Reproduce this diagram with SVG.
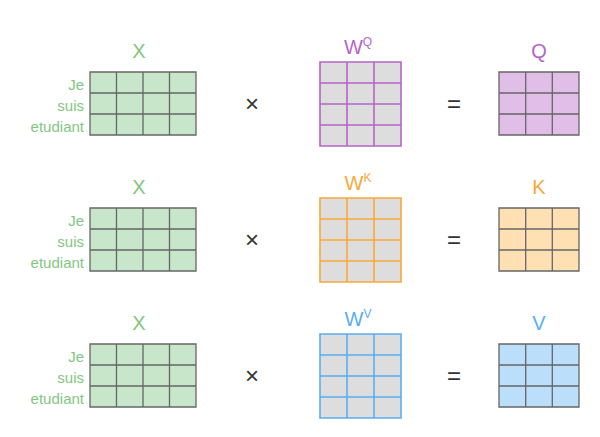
<svg xmlns="http://www.w3.org/2000/svg" width="600" height="437" viewBox="0 0 600 437">
<defs>
<style>
text{font-family:"Liberation Sans",Arial,sans-serif}
.t{font-size:20px;text-anchor:middle}
.w{font-size:15px;text-anchor:end;fill:#82c882}
.op{font-size:24px;text-anchor:middle;fill:#333}
.g{stroke:#666;stroke-width:1.3;fill:none}
</style>
<g id="xm">
<rect x="90" y="72" width="106" height="63" fill="#c8e6c9"/>
<path class="g" d="M90 72h106v63h-106zM116.5 72v63M143 72v63M169.5 72v63M90 93h106M90 114h106"/>
<text class="w" x="84" y="90">Je</text>
<text class="w" x="84" y="111">suis</text>
<text class="w" x="84" y="132">etudiant</text>
<text class="t" x="139" y="58" fill="#82c882">X</text>
<text class="op" x="252" y="112">×</text>
<text class="op" x="454" y="112">=</text>
</g>
<path id="wg" d="M320 62h81v84h-81zM347 62v84M374 62v84M320 83h81M320 104h81M320 125h81"/>
<path id="rg" d="M499 72h80v63h-80zM525.7 72v63M552.3 72v63M499 93h80M499 114h80"/>
</defs>
<g id="row-q">
<use href="#xm"/>
<rect x="320" y="62" width="81" height="84" fill="#dddddd"/>
<use href="#wg" fill="none" stroke="#b565c8" stroke-width="1.6"/>
<text class="t" x="358" y="54" fill="#b565c8">W<tspan font-size="12" dy="-8">Q</tspan></text>
<rect x="499" y="72" width="80" height="63" fill="#e1bee7"/>
<use href="#rg" fill="none" stroke="#666" stroke-width="1.3"/>
<text class="t" x="539" y="58" fill="#b565c8">Q</text>
</g>
<g id="row-k" transform="translate(0,136)">
<use href="#xm"/>
<rect x="320" y="62" width="81" height="84" fill="#dddddd"/>
<use href="#wg" fill="none" stroke="#f8a93a" stroke-width="1.6"/>
<text class="t" x="358" y="54" fill="#f8a93a">W<tspan font-size="12" dy="-8">K</tspan></text>
<rect x="499" y="72" width="80" height="63" fill="#ffe0b2"/>
<use href="#rg" fill="none" stroke="#666" stroke-width="1.3"/>
<text class="t" x="539" y="58" fill="#f8a93a">K</text>
</g>
<g id="row-v" transform="translate(0,272)">
<use href="#xm"/>
<rect x="320" y="62" width="81" height="84" fill="#dddddd"/>
<use href="#wg" fill="none" stroke="#5aaef0" stroke-width="1.6"/>
<text class="t" x="358" y="54" fill="#5aaef0">W<tspan font-size="12" dy="-8">V</tspan></text>
<rect x="499" y="72" width="80" height="63" fill="#bbdefb"/>
<use href="#rg" fill="none" stroke="#666" stroke-width="1.3"/>
<text class="t" x="539" y="58" fill="#5aaef0">V</text>
</g>
<g id="connectors"/>
</svg>
